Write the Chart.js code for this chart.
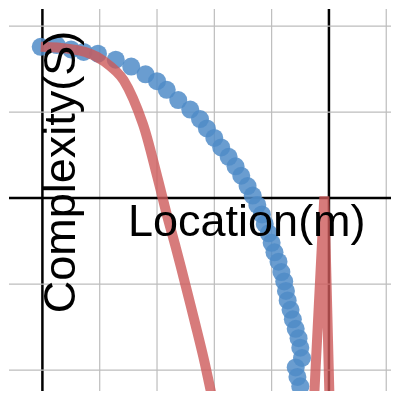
<!DOCTYPE html>
<html><head><meta charset="utf-8">
<script src="https://cdn.jsdelivr.net/npm/chart.js@4"></script>
<style>html,body{margin:0;padding:0;background:#fff}#c{width:400px;height:400px}</style>
</head><body><div id="c"><canvas id="myChart" width="400" height="400"></canvas></div>
<script>
// blue measured points (location, complexity)
const blueX = [-0.03,0.25,0.5,0.72,0.97,1.28,1.55,1.8,2.0,2.17,2.37,2.58,2.75,2.87,3.0,3.12,3.25,3.37,3.47,3.58,3.67,3.75,3.83,3.88,3.95,4.0,4.05,4.12,4.17,4.22,4.25,4.28,4.33,4.37,4.42,4.47,4.5,4.53,4.42,4.45,4.5];
const blueY = [1.76,1.78,1.73,1.70,1.68,1.61,1.53,1.44,1.36,1.26,1.14,1.03,0.92,0.81,0.70,0.59,0.48,0.37,0.26,0.14,0.03,-0.08,-0.19,-0.30,-0.41,-0.52,-0.63,-0.74,-0.86,-0.97,-1.08,-1.19,-1.30,-1.41,-1.52,-1.63,-1.74,-1.86,-1.97,-2.08,-2.19];
// red model curve
const redX = [-0.03,0.3,0.75,1.08,1.42,1.75,2.0,2.17,2.33,2.5,2.67,2.83,3.05];
const redY = [1.76,1.75,1.70,1.59,1.37,0.87,0.26,-0.19,-0.58,-1.02,-1.47,-1.91,-2.6];
// red spike
const spikeX = [4.72,4.92,5.02];
const spikeY = [-2.6,0.02,-2.6];
const gridX = [0,1,2,3,4,5,6];
const gridY = [-2,-1,0,1,2];

const $ctx = document.getElementById('myChart');

const paper = {
    id: 'paper',
    beforeDatasetsDraw(chart) {
        const c = chart.ctx, sx = chart.scales.x, sy = chart.scales.y;
        const a = chart.chartArea;
        c.save();
        gridX.forEach(v => {
            const p = sx.getPixelForValue(v);
            const bold = v === 0 || v === 5;
            c.strokeStyle = bold ? '#000' : '#bdbdbd';
            c.lineWidth = bold ? 2.5 : 1.2;
            c.beginPath(); c.moveTo(p, a.top); c.lineTo(p, a.bottom); c.stroke();
        });
        gridY.forEach(v => {
            const p = sy.getPixelForValue(v);
            c.strokeStyle = v === 0 ? '#000' : '#bdbdbd';
            c.lineWidth = v === 0 ? 2.5 : 1.2;
            c.beginPath(); c.moveTo(a.left, p); c.lineTo(a.right, p); c.stroke();
        });
        c.restore();
    },
    afterDraw(chart) {
        const c = chart.ctx;
        c.save();
        c.fillStyle = '#000';
        c.font = '45px "Liberation Sans", Arial, sans-serif';
        c.textBaseline = 'middle';
        c.fillText('Location(m)', 128, 224);
        c.translate(63, 172);
        c.rotate(-Math.PI / 2);
        c.textAlign = 'center';
        c.fillText('Complexity(S)', 0, 0);
        c.restore();
    }
};

new Chart($ctx, {
    type: 'scatter',
    data: {
        datasets: [{
            data: redX.map((x, i) => ({x: x, y: redY[i]})),
            showLine: true,
            borderColor: 'rgba(205,90,90,0.8)',
            borderWidth: 10,
            pointRadius: 0,
            tension: 0.3,
            order: 1
        }, {
            data: spikeX.map((x, i) => ({x: x, y: spikeY[i]})),
            showLine: true,
            borderColor: 'rgba(205,90,90,0.8)',
            borderWidth: 10,
            pointRadius: 0,
            tension: 0,
            order: 1
        }, {
            data: blueX.map((x, i) => ({x: x, y: blueY[i]})),
            backgroundColor: 'rgba(80,140,200,0.85)',
            borderWidth: 0,
            pointRadius: 9,
            order: 2
        }]
    },
    options: {
        responsive: false,
        animation: false,
        layout: {padding: 0},
        plugins: {legend: {display: false}, tooltip: {enabled: false}},
        scales: {
            x: {type: 'linear', min: -0.583, max: 6.083, display: false},
            y: {type: 'linear', min: -2.244, max: 2.2, display: false}
        }
    },
    plugins: [paper]
});
</script>
</body></html>
